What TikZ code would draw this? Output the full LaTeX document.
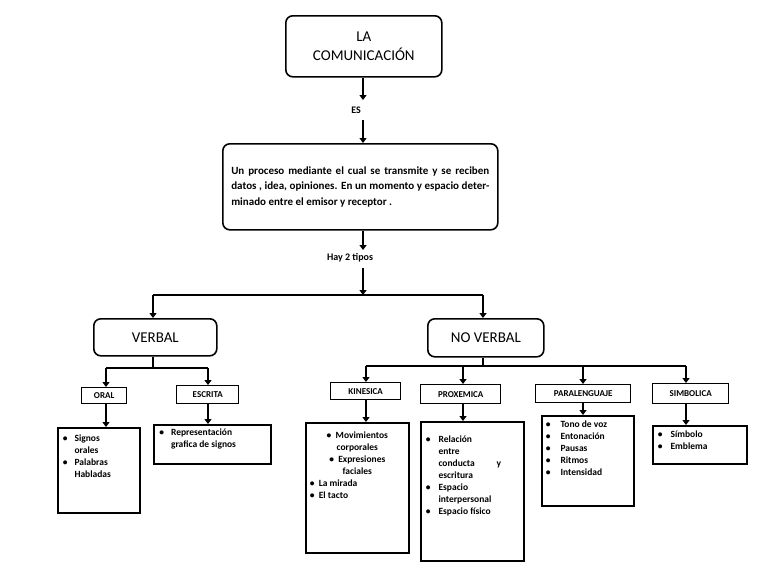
\documentclass[tikz,border=0pt]{standalone}
\usepackage{fontspec}
\setmainfont{Carlito}
\usetikzlibrary{arrows.meta}
\newcommand{\bl}[3]{\parbox[c][#2][t]{#1}{#3}}
\begin{document}
\begin{tikzpicture}[x=1pt,y=-1pt,
  box/.style={draw,line width=1.6pt,anchor=north west,inner sep=0pt,font=\bfseries},
  rbox/.style={box,rounded corners=7pt},
  tag/.style={box,line width=1.4pt,font=\bfseries\fontsize{9}{10}\selectfont},
  arr/.style={line width=1.8pt,-{Triangle[length=5pt,width=7pt]}},
  ln/.style={line width=1.8pt},
  lst/.style={font=\bfseries\fontsize{9.5}{12}\selectfont}]
\useasboundingbox (0,0) rectangle (768,576);
\node[rbox,minimum width=156pt,minimum height=61pt,align=center,font=\fontsize{15}{19}\selectfont] (com) at (285,15) {LA\\COMUNICACIÓN};
\node[font=\bfseries\fontsize{10}{12}\selectfont] (es) at (356,110) {ES};
\node[rbox,minimum width=275pt,minimum height=86pt,font=\bfseries\fontsize{11}{15.5}\selectfont] (def) at (222,143)
  {\parbox{258pt}{Un proceso mediante el cual se transmite y se reciben datos , idea, opiniones. En un momento y espacio determinado entre el emisor y receptor .}};
\node[font=\bfseries\fontsize{10}{12}\selectfont] (hay) at (350,258) {Hay 2 tipos};
\node[rbox,minimum width=123pt,minimum height=37pt,font=\fontsize{15}{18}\selectfont] (verb) at (93,318) {VERBAL};
\node[rbox,minimum width=116pt,minimum height=38pt,font=\fontsize{15}{18}\selectfont] (nov) at (427,318) {NO VERBAL};
\coordinate (h1) at (363,295);
\coordinate (hl) at (153,295);
\coordinate (hr) at (483,295);
\draw[arr] (com.south -| 363,0) -- (363,100);
\draw[arr] (363,120) -- (def.north -| 363,0);
\draw[arr] (def.south -| 363,0) -- (363,250);
\draw[arr] (363,268) -- (h1);
\draw[ln] (hl) -- (hr);
\draw[arr] (hl) -- (verb.north -| hl);
\draw[arr] (hr) -- (nov.north -| hr);
% verbal
\node[tag,minimum width=45pt,minimum height=16pt] (oral) at (81,387) {ORAL};
\node[tag,minimum width=62pt,minimum height=18pt] (esc) at (176,385) {ESCRITA};
\coordinate (v0) at (153,368);
\draw[ln] (verb.south -| v0) -- (v0);
\draw[ln] (106,368) -- (208,368);
\draw[arr] (106,368) -- (oral.north -| 106,0);
\draw[arr] (208,368) -- (esc.north -| 208,0);
\node[box,minimum width=82pt,minimum height=85pt,lst] (sig) at (57,427)
  {\bl{72pt}{78pt}{\vspace{2pt}\begin{tabular}{@{}l@{\hspace{7pt}}l@{}}•&Signos\\&orales\\•&Palabras\\&Habladas\end{tabular}}};
\node[box,minimum width=117pt,minimum height=39pt,lst] (rep) at (153,424)
  {\bl{106pt}{34pt}{\begin{tabular}{@{}l@{\hspace{7pt}}l@{}}•&Representación\\&grafica de signos\end{tabular}}};
\draw[arr] (oral.south -| 106,0) -- (sig.north -| 106,0);
\draw[arr] (esc.south -| 208,0) -- (rep.north -| 208,0);
% no verbal
\node[tag,minimum width=70pt,minimum height=17pt] (kin) at (330,382) {KINESICA};
\node[tag,minimum width=80pt,minimum height=19pt] (pro) at (420,384) {PROXEMICA};
\node[tag,minimum width=95pt,minimum height=18pt] (par) at (535,384) {PARALENGUAJE};
\node[tag,minimum width=76pt,minimum height=20pt] (sim) at (652,383) {SIMBOLICA};
\coordinate (n0) at (483,366);
\draw[ln] (nov.south -| n0) -- (n0);
\draw[ln] (366,366) -- (686,366);
\draw[arr] (366,366) -- (kin.north -| 366,0);
\draw[arr] (463,366) -- (pro.north -| 463,0);
\draw[arr] (583,366) -- (par.north -| 583,0);
\draw[arr] (686,366) -- (sim.north -| 686,0);
\node[box,minimum width=103pt,minimum height=130pt,lst] (kb) at (305,422)
  {\bl{95pt}{124pt}{\vspace{6pt}\centering • \ Movimientos\\ corporales\\ • \ Expresiones\\ faciales\\ \raggedright • \ La mirada\\ • \ El tacto\par}};
\node[box,minimum width=103pt,minimum height=139pt,lst] (pb) at (420,421)
  {\bl{93pt}{133pt}{\vspace{9pt}\begin{tabular}{@{}l@{\hspace{8pt}}l@{}}•&Relación\\&entre\\&conducta\hspace{22pt}y\\&escritura\\•&Espacio\\&interpersonal\\•&Espacio físico\end{tabular}}};
\node[box,minimum width=92pt,minimum height=90pt,lst] (lb) at (541,415)
  {\bl{84pt}{84pt}{\begin{tabular}{@{}l@{\hspace{10pt}}l@{}}•&Tono de voz\\•&Entonación\\•&Pausas\\•&Ritmos\\•&Intensidad\end{tabular}}};
\node[box,minimum width=94pt,minimum height=38pt,lst] (sb) at (652,425)
  {\bl{84pt}{32pt}{\begin{tabular}{@{}l@{\hspace{8pt}}l@{}}•&Símbolo\\•&Emblema\end{tabular}}};
\draw[arr] (kin.south -| 366,0) -- (kb.north -| 366,0);
\draw[arr] (pro.south -| 463,0) -- (pb.north -| 463,0);
\draw[arr] (par.south -| 583,0) -- (lb.north -| 583,0);
\draw[arr] (sim.south -| 686,0) -- (sb.north -| 686,0);
\end{tikzpicture}
\end{document}
